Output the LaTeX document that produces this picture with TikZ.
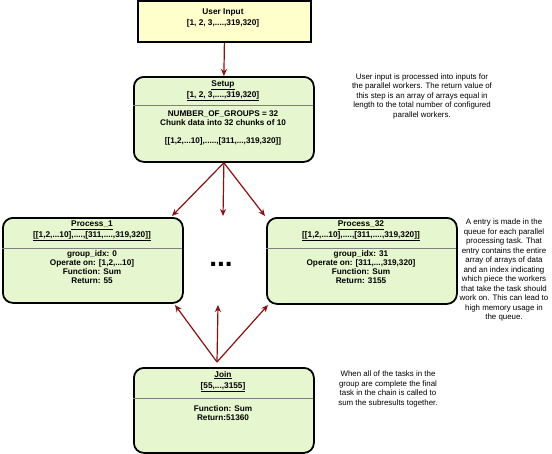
\documentclass[tikz,border=0pt]{standalone}
\usepackage{fontspec}
\setmainfont{Liberation Sans}
\usepackage{xcolor}
\usetikzlibrary{arrows.meta}

\definecolor{inputyellow}{HTML}{FFFFCC}
\definecolor{stagegreen}{HTML}{E6F6CE}
\definecolor{flowred}{HTML}{8B1010}

\begin{document}
\begin{tikzpicture}[x=1pt,y=-1pt]

\tikzset{
    box/.style = {
    draw, line width=1.8pt, inner sep=0pt, anchor=north west
    }
}

\tikzstyle{inputbox}=[box, fill=inputyellow]
\tikzstyle{stage}=[box, fill=stagegreen, rounded corners=10pt]
\tikzstyle{header}=[align=center, font=\fontsize{8.3}{11}\selectfont\bfseries]
\tikzstyle{body}=[align=center, font=\fontsize{8.2}{9}\selectfont\bfseries]
\tikzstyle{note}=[align=center, font=\fontsize{7.9}{9.5}\selectfont]
\tikzstyle{divider}=[draw, gray, line width=0.5pt]
\tikzstyle{flow}=[draw, flowred, line width=1.2pt, -{Stealth[length=7pt,width=6pt]}]

\useasboundingbox (0,0) rectangle (552,453);

% boxes
\node (input) [inputbox, minimum width=173, minimum height=41] at (137,0) {};
\node (setup) [stage, minimum width=180, minimum height=85] at (133,76) {};
\node (proc-1) [stage, minimum width=180, minimum height=85] at (2,217) {};
\node (proc-32) [stage, minimum width=190, minimum height=86] at (266,217) {};
\node (join) [stage, minimum width=180, minimum height=85] at (133,367) {};

\draw[divider] (133,105) -- (313,105);
\draw[divider] (2,248) -- (182,248);
\draw[divider] (266,248) -- (456,248);
\draw[divider] (133,398) -- (313,398);

% texts
\node (input-txt) [header] at (223,18) {User Input\\{[1, 2, 3,....,319,320]}};

\node (setup-head) [header] at (223,90.5) {\underline{Setup}\\\underline{[1, 2, 3,....,319,320]}};
\node (setup-body) [body] at (223,128) {NUMBER\_OF\_GROUPS = 32\\Chunk data into 32 chunks of 10\\[9pt]{[[1,2,...10],.....,[311,...,319,320]]}};

\node (proc-1-head) [header] at (92,231) {\underline{Process\_1}\\\underline{[[1,2,...10],....,[311,....,319,320]]}};
\node (proc-1-body) [body] at (92,267.5) {group\_idx: 0\\Operate on: [1,2,...10]\\Function: Sum\\Return: 55};

\node (proc-32-head) [header] at (361,231) {\underline{Process\_32}\\\underline{[[1,2,...10],....,[311,....,319,320]]}};
\node (proc-32-body) [body] at (361,267.5) {group\_idx: 31\\Operate on: [311,...,319,320]\\Function: Sum\\Return: 3155};

\node (join-head) [header] at (223,381.5) {\underline{Join}\\\underline{[55,...,3155]}};
\node (join-body) [body] at (223,413) {Function: Sum\\Return:51360};

\node (dots) [font=\fontsize{28}{28}\selectfont\bfseries] at (221,264) {...};

% notes
\node (setup-note) [note] at (422,96) {User input is processed into inputs for\\the parallel workers. The return value of\\this step is an array of arrays equal in\\length to the total number of configured\\parallel workers.};
\node (proc-note) [note] at (504,270) {A entry is made in the\\queue for each parallel\\processing task. That\\entry contains the entire\\array of arrays of data\\and an index indicating\\which piece the workers\\that take the task should\\work on. This can lead to\\high memory usage in\\the queue.};
\node (join-note) [note] at (388,389) {When all of the tasks in the\\group are complete the final\\task in the chain is called to\\sum the subresults together.};

% connectors
\coordinate (proc-1-in) at (172,216);
\coordinate (mid-in) at (223,216);
\coordinate (proc-32-in) at (265,216);
\coordinate (join-out) at (217,362);
\coordinate (proc-1-out) at (175,305);
\coordinate (mid-out) at (218,305);
\coordinate (proc-32-out) at (268,305);

\draw[flow] (input.south) -- (setup.north);
\draw[flow] (setup.south) -- (proc-1-in);
\draw[flow] (setup.south) -- (mid-in);
\draw[flow] (setup.south) -- (proc-32-in);
\draw[flow] (join-out) -- (proc-1-out);
\draw[flow] (join-out) -- (mid-out);
\draw[flow] (join-out) -- (proc-32-out);

\end{tikzpicture}
\end{document}
